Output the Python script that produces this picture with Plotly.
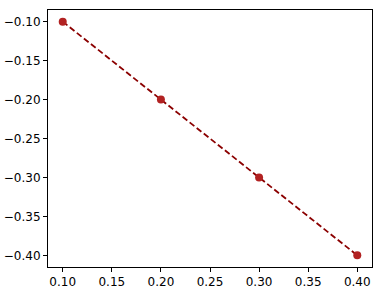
import plotly.graph_objects as go

x_vals = [0.1, 0.2, 0.3, 0.4]
y_vals = [-0.1, -0.2, -0.3, -0.4]
x_ticks = [0.10, 0.15, 0.20, 0.25, 0.30, 0.35, 0.40]
y_ticks = [-0.10, -0.15, -0.20, -0.25, -0.30, -0.35, -0.40]

fig = go.Figure()
fig.add_trace(go.Scatter(
    x=x_vals, y=y_vals, mode="lines+markers",
    line=dict(color="#8B0000", dash="6px,3px", width=1.8),
    marker=dict(color="#B22222", size=8, line=dict(width=0)),
))

axis_common = dict(
    showgrid=False, zeroline=False, showline=True, linecolor="black", linewidth=1,
    mirror=True, ticks="outside", ticklen=4, tickwidth=1, tickcolor="black",
    tickfont=dict(family="DejaVu Sans", size=12, color="black"),
    automargin=False,
)
fig.update_xaxes(range=[0.085, 0.415], tickvals=x_ticks,
                 ticktext=[f"{v:.2f}" for v in x_ticks], **axis_common)
fig.update_yaxes(range=[-0.415, -0.085], tickvals=y_ticks,
                 ticktext=[f"\u2212{abs(v):.2f}" for v in y_ticks], **axis_common)

fig.update_layout(
    width=384, height=292,
    margin=dict(l=48, r=12, t=10, b=25),
    plot_bgcolor="white", paper_bgcolor="white",
    showlegend=False,
)
fig.write_html("out.html")
